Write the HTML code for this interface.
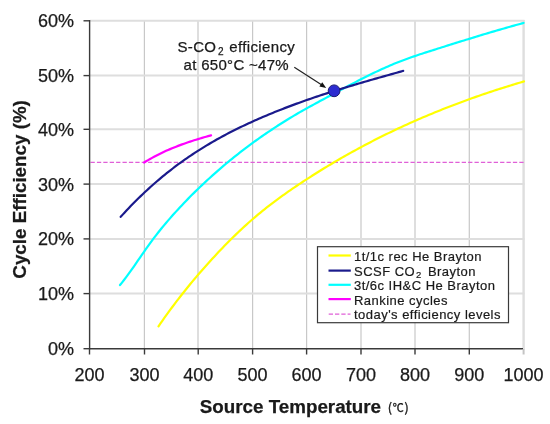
<!DOCTYPE html>
<html><head><meta charset="utf-8"><style>
html,body{margin:0;padding:0;background:#fff;width:550px;height:424px;overflow:hidden}
svg{display:block}
</style></head><body>
<svg width="550" height="424" viewBox="0 0 550 424">
<rect width="550" height="424" fill="#fff"/>
<line x1="144.4" y1="20" x2="144.4" y2="348" stroke="#c8c8c8" stroke-width="1.2"/>
<line x1="198.0" y1="20" x2="198.0" y2="348" stroke="#c8c8c8" stroke-width="1.2"/>
<line x1="252.6" y1="20" x2="252.6" y2="348" stroke="#c8c8c8" stroke-width="1.2"/>
<line x1="306.6" y1="20" x2="306.6" y2="348" stroke="#c8c8c8" stroke-width="1.2"/>
<line x1="361.0" y1="20" x2="361.0" y2="348" stroke="#c8c8c8" stroke-width="1.2"/>
<line x1="415.0" y1="20" x2="415.0" y2="348" stroke="#c8c8c8" stroke-width="1.2"/>
<line x1="469.3" y1="20" x2="469.3" y2="348" stroke="#c8c8c8" stroke-width="1.2"/>
<line x1="523.6" y1="20" x2="523.6" y2="349.5" stroke="#dedede" stroke-width="2.4"/>
<line x1="90" y1="20.8" x2="524.5" y2="20.8" stroke="#dedede" stroke-width="2"/>
<line x1="90" y1="75.6" x2="524.5" y2="75.6" stroke="#dedede" stroke-width="2"/>
<line x1="90" y1="129.3" x2="524.5" y2="129.3" stroke="#dedede" stroke-width="2"/>
<line x1="90" y1="184.1" x2="524.5" y2="184.1" stroke="#dedede" stroke-width="2"/>
<line x1="90" y1="238.9" x2="524.5" y2="238.9" stroke="#dedede" stroke-width="2"/>
<line x1="90" y1="293.6" x2="524.5" y2="293.6" stroke="#dedede" stroke-width="2"/>
<line x1="90.5" y1="162.4" x2="524.5" y2="162.4" stroke="#e060d8" stroke-width="1.3" stroke-dasharray="4.3,2.1"/>
<line x1="89.6" y1="20" x2="89.6" y2="349.3" stroke="#3a3a3a" stroke-width="1.4"/>
<line x1="89" y1="348.7" x2="523" y2="348.7" stroke="#3a3a3a" stroke-width="1.4"/>
<line x1="83.5" y1="20.8" x2="89.6" y2="20.8" stroke="#3a3a3a" stroke-width="1.4"/>
<line x1="83.5" y1="75.6" x2="89.6" y2="75.6" stroke="#3a3a3a" stroke-width="1.4"/>
<line x1="83.5" y1="129.3" x2="89.6" y2="129.3" stroke="#3a3a3a" stroke-width="1.4"/>
<line x1="83.5" y1="184.1" x2="89.6" y2="184.1" stroke="#3a3a3a" stroke-width="1.4"/>
<line x1="83.5" y1="238.9" x2="89.6" y2="238.9" stroke="#3a3a3a" stroke-width="1.4"/>
<line x1="83.5" y1="293.6" x2="89.6" y2="293.6" stroke="#3a3a3a" stroke-width="1.4"/>
<line x1="83.5" y1="348.7" x2="89.6" y2="348.7" stroke="#3a3a3a" stroke-width="1.4"/>
<line x1="89.5" y1="348.7" x2="89.5" y2="354.5" stroke="#3a3a3a" stroke-width="1.4"/>
<line x1="144.5" y1="348.7" x2="144.5" y2="354.5" stroke="#3a3a3a" stroke-width="1.4"/>
<line x1="198.2" y1="348.7" x2="198.2" y2="354.5" stroke="#3a3a3a" stroke-width="1.4"/>
<line x1="252.6" y1="348.7" x2="252.6" y2="354.5" stroke="#3a3a3a" stroke-width="1.4"/>
<line x1="306.6" y1="348.7" x2="306.6" y2="354.5" stroke="#3a3a3a" stroke-width="1.4"/>
<line x1="361.0" y1="348.7" x2="361.0" y2="354.5" stroke="#3a3a3a" stroke-width="1.4"/>
<line x1="415.0" y1="348.7" x2="415.0" y2="354.5" stroke="#3a3a3a" stroke-width="1.4"/>
<line x1="469.3" y1="348.7" x2="469.3" y2="354.5" stroke="#3a3a3a" stroke-width="1.4"/>
<line x1="523.6" y1="349" x2="523.6" y2="354.5" stroke="#c4c4c4" stroke-width="2"/>
<path d="M158.50,326.29 L160.50,323.39 L162.50,320.53 L164.50,317.71 L166.50,314.92 L168.50,312.16 L170.50,309.43 L172.50,306.74 L174.50,304.07 L176.50,301.44 L178.50,298.84 L180.50,296.26 L182.50,293.72 L184.50,291.20 L186.50,288.71 L188.50,286.25 L190.50,283.81 L192.50,281.40 L194.50,279.02 L196.50,276.65 L198.50,274.31 L200.50,272.00 L202.50,269.71 L204.50,267.43 L206.50,265.18 L208.50,262.95 L210.50,260.74 L212.50,258.55 L214.50,256.38 L216.50,254.23 L218.50,252.10 L220.50,249.99 L222.50,247.91 L224.50,245.84 L226.50,243.80 L228.50,241.77 L230.50,239.77 L232.50,237.80 L234.50,235.84 L236.50,233.91 L238.50,231.99 L240.50,230.11 L242.50,228.24 L244.50,226.40 L246.50,224.58 L248.50,222.79 L250.50,221.02 L252.50,219.28 L254.50,217.56 L256.50,215.86 L258.50,214.19 L260.50,212.54 L262.50,210.91 L264.50,209.30 L266.50,207.72 L268.50,206.15 L270.50,204.61 L272.50,203.08 L274.50,201.57 L276.50,200.08 L278.50,198.61 L280.50,197.15 L282.50,195.71 L284.50,194.28 L286.50,192.87 L288.50,191.47 L290.50,190.08 L292.50,188.71 L294.50,187.35 L296.50,186.00 L298.50,184.66 L300.50,183.33 L302.50,182.01 L304.50,180.70 L306.50,179.40 L308.50,178.10 L310.50,176.82 L312.50,175.54 L314.50,174.27 L316.50,173.01 L318.50,171.76 L320.50,170.52 L322.50,169.29 L324.50,168.06 L326.50,166.85 L328.50,165.64 L330.50,164.44 L332.50,163.25 L334.50,162.07 L336.50,160.89 L338.50,159.73 L340.50,158.57 L342.50,157.42 L344.50,156.28 L346.50,155.14 L348.50,154.02 L350.50,152.90 L352.50,151.79 L354.50,150.69 L356.50,149.59 L358.50,148.51 L360.50,147.43 L362.50,146.36 L364.50,145.29 L366.50,144.24 L368.50,143.19 L370.50,142.15 L372.50,141.12 L374.50,140.09 L376.50,139.07 L378.50,138.06 L380.50,137.06 L382.50,136.06 L384.50,135.08 L386.50,134.09 L388.50,133.12 L390.50,132.15 L392.50,131.19 L394.50,130.24 L396.50,129.29 L398.50,128.35 L400.50,127.42 L402.50,126.49 L404.50,125.57 L406.50,124.66 L408.50,123.76 L410.50,122.86 L412.50,121.97 L414.50,121.08 L416.50,120.20 L418.50,119.33 L420.50,118.46 L422.50,117.60 L424.50,116.75 L426.50,115.90 L428.50,115.06 L430.50,114.23 L432.50,113.40 L434.50,112.58 L436.50,111.76 L438.50,110.95 L440.50,110.15 L442.50,109.35 L444.50,108.56 L446.50,107.77 L448.50,106.99 L450.50,106.22 L452.50,105.45 L454.50,104.68 L456.50,103.93 L458.50,103.18 L460.50,102.43 L462.50,101.69 L464.50,100.95 L466.50,100.23 L468.50,99.50 L470.50,98.78 L472.50,98.07 L474.50,97.36 L476.50,96.66 L478.50,95.96 L480.50,95.27 L482.50,94.58 L484.50,93.90 L486.50,93.22 L488.50,92.55 L490.50,91.88 L492.50,91.22 L494.50,90.56 L496.50,89.91 L498.50,89.26 L500.50,88.62 L502.50,87.98 L504.50,87.35 L506.50,86.72 L508.50,86.09 L510.50,85.47 L512.50,84.86 L514.50,84.25 L516.50,83.64 L518.50,83.04 L520.50,82.44 L522.50,81.85 L524.00,81.40" fill="none" stroke="#ffff00" stroke-width="2.2" stroke-linecap="round" stroke-linejoin="round"/>
<path d="M120.00,285.05 L122.00,282.58 L124.00,280.02 L126.00,277.39 L128.00,274.68 L130.00,271.92 L132.00,269.10 L134.00,266.26 L136.00,263.38 L138.00,260.48 L140.00,257.58 L142.00,254.68 L144.00,251.79 L146.00,248.93 L148.00,246.10 L150.00,243.32 L152.00,240.59 L154.00,237.92 L156.00,235.30 L158.00,232.74 L160.00,230.23 L162.00,227.77 L164.00,225.36 L166.00,222.98 L168.00,220.65 L170.00,218.35 L172.00,216.08 L174.00,213.84 L176.00,211.63 L178.00,209.45 L180.00,207.29 L182.00,205.15 L184.00,203.04 L186.00,200.95 L188.00,198.89 L190.00,196.85 L192.00,194.84 L194.00,192.85 L196.00,190.88 L198.00,188.93 L200.00,187.00 L202.00,185.10 L204.00,183.21 L206.00,181.35 L208.00,179.51 L210.00,177.69 L212.00,175.88 L214.00,174.10 L216.00,172.33 L218.00,170.58 L220.00,168.85 L222.00,167.14 L224.00,165.45 L226.00,163.77 L228.00,162.11 L230.00,160.46 L232.00,158.84 L234.00,157.22 L236.00,155.63 L238.00,154.05 L240.00,152.48 L242.00,150.93 L244.00,149.40 L246.00,147.88 L248.00,146.37 L250.00,144.88 L252.00,143.41 L254.00,141.95 L256.00,140.51 L258.00,139.08 L260.00,137.66 L262.00,136.26 L264.00,134.87 L266.00,133.50 L268.00,132.14 L270.00,130.79 L272.00,129.46 L274.00,128.14 L276.00,126.83 L278.00,125.54 L280.00,124.26 L282.00,123.00 L284.00,121.74 L286.00,120.50 L288.00,119.27 L290.00,118.06 L292.00,116.85 L294.00,115.66 L296.00,114.48 L298.00,113.31 L300.00,112.16 L302.00,111.01 L304.00,109.88 L306.00,108.76 L308.00,107.64 L310.00,106.53 L312.00,105.44 L314.00,104.34 L316.00,103.25 L318.00,102.17 L320.00,101.09 L322.00,100.01 L324.00,98.94 L326.00,97.86 L328.00,96.79 L330.00,95.71 L332.00,94.63 L334.00,93.56 L336.00,92.48 L338.00,91.40 L340.00,90.33 L342.00,89.26 L344.00,88.19 L346.00,87.13 L348.00,86.06 L350.00,85.01 L352.00,83.95 L354.00,82.91 L356.00,81.86 L358.00,80.83 L360.00,79.80 L362.00,78.78 L364.00,77.76 L366.00,76.76 L368.00,75.76 L370.00,74.77 L372.00,73.80 L374.00,72.83 L376.00,71.87 L378.00,70.93 L380.00,70.00 L382.00,69.08 L384.00,68.17 L386.00,67.28 L388.00,66.40 L390.00,65.53 L392.00,64.68 L394.00,63.85 L396.00,63.03 L398.00,62.23 L400.00,61.44 L402.00,60.67 L404.00,59.92 L406.00,59.18 L408.00,58.45 L410.00,57.74 L412.00,57.04 L414.00,56.35 L416.00,55.67 L418.00,55.00 L420.00,54.33 L422.00,53.68 L424.00,53.02 L426.00,52.38 L428.00,51.74 L430.00,51.10 L432.00,50.47 L434.00,49.84 L436.00,49.20 L438.00,48.57 L440.00,47.94 L442.00,47.31 L444.00,46.68 L446.00,46.05 L448.00,45.42 L450.00,44.80 L452.00,44.17 L454.00,43.54 L456.00,42.92 L458.00,42.29 L460.00,41.67 L462.00,41.05 L464.00,40.43 L466.00,39.81 L468.00,39.19 L470.00,38.58 L472.00,37.96 L474.00,37.35 L476.00,36.74 L478.00,36.13 L480.00,35.52 L482.00,34.92 L484.00,34.32 L486.00,33.72 L488.00,33.12 L490.00,32.52 L492.00,31.93 L494.00,31.34 L496.00,30.75 L498.00,30.17 L500.00,29.59 L502.00,29.01 L504.00,28.44 L506.00,27.86 L508.00,27.30 L510.00,26.73 L512.00,26.17 L514.00,25.61 L516.00,25.06 L518.00,24.51 L520.00,23.96 L522.00,23.42 L523.60,22.99" fill="none" stroke="#00ffff" stroke-width="2.2" stroke-linecap="round" stroke-linejoin="round"/>
<path d="M120.70,216.84 L122.70,214.63 L124.70,212.46 L126.70,210.31 L128.70,208.20 L130.70,206.11 L132.70,204.05 L134.70,202.02 L136.70,200.02 L138.70,198.05 L140.70,196.10 L142.70,194.19 L144.70,192.30 L146.70,190.43 L148.70,188.59 L150.70,186.78 L152.70,185.00 L154.70,183.24 L156.70,181.50 L158.70,179.79 L160.70,178.11 L162.70,176.45 L164.70,174.81 L166.70,173.20 L168.70,171.61 L170.70,170.04 L172.70,168.50 L174.70,166.97 L176.70,165.47 L178.70,163.99 L180.70,162.54 L182.70,161.10 L184.70,159.68 L186.70,158.29 L188.70,156.91 L190.70,155.55 L192.70,154.22 L194.70,152.90 L196.70,151.60 L198.70,150.32 L200.70,149.06 L202.70,147.81 L204.70,146.58 L206.70,145.37 L208.70,144.18 L210.70,143.00 L212.70,141.84 L214.70,140.70 L216.70,139.56 L218.70,138.45 L220.70,137.35 L222.70,136.26 L224.70,135.19 L226.70,134.13 L228.70,133.09 L230.70,132.06 L232.70,131.04 L234.70,130.03 L236.70,129.04 L238.70,128.06 L240.70,127.09 L242.70,126.13 L244.70,125.18 L246.70,124.24 L248.70,123.32 L250.70,122.40 L252.70,121.49 L254.70,120.59 L256.70,119.70 L258.70,118.82 L260.70,117.95 L262.70,117.09 L264.70,116.23 L266.70,115.39 L268.70,114.55 L270.70,113.72 L272.70,112.90 L274.70,112.09 L276.70,111.29 L278.70,110.49 L280.70,109.70 L282.70,108.92 L284.70,108.14 L286.70,107.38 L288.70,106.62 L290.70,105.86 L292.70,105.12 L294.70,104.38 L296.70,103.64 L298.70,102.92 L300.70,102.20 L302.70,101.49 L304.70,100.78 L306.70,100.08 L308.70,99.38 L310.70,98.69 L312.70,98.01 L314.70,97.33 L316.70,96.66 L318.70,95.99 L320.70,95.32 L322.70,94.67 L324.70,94.01 L326.70,93.37 L328.70,92.72 L330.70,92.08 L332.70,91.45 L334.70,90.82 L336.70,90.19 L338.70,89.57 L340.70,88.95 L342.70,88.34 L344.70,87.73 L346.70,87.12 L348.70,86.52 L350.70,85.91 L352.70,85.32 L354.70,84.72 L356.70,84.13 L358.70,83.54 L360.70,82.96 L362.70,82.37 L364.70,81.79 L366.70,81.21 L368.70,80.63 L370.70,80.06 L372.70,79.49 L374.70,78.91 L376.70,78.34 L378.70,77.78 L380.70,77.21 L382.70,76.64 L384.70,76.08 L386.70,75.51 L388.70,74.95 L390.70,74.39 L392.70,73.83 L394.70,73.27 L396.70,72.71 L398.70,72.15 L400.70,71.59 L402.70,71.03 L403.20,70.89" fill="none" stroke="#1a1a8c" stroke-width="2.2" stroke-linecap="round" stroke-linejoin="round"/>
<path d="M144.10,162.48 L146.10,161.27 L148.10,160.10 L150.10,158.95 L152.10,157.84 L154.10,156.76 L156.10,155.71 L158.10,154.68 L160.10,153.69 L162.10,152.72 L164.10,151.79 L166.10,150.87 L168.10,149.98 L170.10,149.12 L172.10,148.28 L174.10,147.46 L176.10,146.66 L178.10,145.88 L180.10,145.13 L182.10,144.39 L184.10,143.67 L186.10,142.97 L188.10,142.28 L190.10,141.62 L192.10,140.96 L194.10,140.32 L196.10,139.69 L198.10,139.08 L200.10,138.48 L202.10,137.88 L204.10,137.30 L206.10,136.73 L208.10,136.16 L210.10,135.60 L211.10,135.33" fill="none" stroke="#ff00ff" stroke-width="2.2" stroke-linecap="round" stroke-linejoin="round"/>
<circle cx="334.1" cy="90.8" r="5.9" fill="#2c2cd0" stroke="#1a1a70" stroke-width="1"/>
<line x1="294.3" y1="67.3" x2="321.5" y2="84.8" stroke="#222" stroke-width="1.2"/>
<polygon points="326.2,87.9 319.4,86.4 322.2,82.2" fill="#111"/>
<g font-family="'Liberation Sans', Arial, sans-serif" fill="#1a1a1a" stroke="#1a1a1a" stroke-width="0.25">
<text x="74" y="27.4" font-size="18" text-anchor="end">60%</text>
<text x="74" y="82.1" font-size="18" text-anchor="end">50%</text>
<text x="74" y="135.6" font-size="18" text-anchor="end">40%</text>
<text x="74" y="190.7" font-size="18" text-anchor="end">30%</text>
<text x="74" y="245.4" font-size="18" text-anchor="end">20%</text>
<text x="74" y="300.1" font-size="18" text-anchor="end">10%</text>
<text x="74" y="355.1" font-size="18" text-anchor="end">0%</text>
<text x="89.5" y="381" font-size="18" text-anchor="middle">200</text>
<text x="144.5" y="381" font-size="18" text-anchor="middle">300</text>
<text x="198.2" y="381" font-size="18" text-anchor="middle">400</text>
<text x="252.6" y="381" font-size="18" text-anchor="middle">500</text>
<text x="306.6" y="381" font-size="18" text-anchor="middle">600</text>
<text x="361.0" y="381" font-size="18" text-anchor="middle">700</text>
<text x="415.0" y="381" font-size="18" text-anchor="middle">800</text>
<text x="469.3" y="381" font-size="18" text-anchor="middle">900</text>
<text x="523.5" y="381" font-size="18" text-anchor="middle">1000</text>
<text id="ann1" x="236.3" y="52.3" font-size="15" letter-spacing="0.35" text-anchor="middle">S-CO<tspan font-size="10" dx="1.5" dy="2.3">2</tspan><tspan dx="1" dy="-2.3"> efficiency</tspan></text>
<text id="ann2" x="236.3" y="69.8" font-size="15" letter-spacing="0.3" text-anchor="middle">at 650°C ~47%</text>
<text id="ytitle" x="0" y="0" font-size="18.8" font-weight="bold" transform="translate(26,189.4) rotate(-90)" text-anchor="middle">Cycle Efficiency (%)</text>
<text id="xtitle" x="199.8" y="412.5" font-size="18.8" font-weight="bold">Source Temperature <tspan font-weight="normal" font-size="12.5" stroke-width="0.35" dx="1.5" dy="-0.8" font-family="'Noto Sans CJK JP', sans-serif">(<tspan font-size="11" dx="0.8">℃</tspan><tspan dx="0.6">)</tspan></tspan></text>
</g>
<rect x="317.5" y="246.7" width="191" height="76" fill="#fff" stroke="#3a3a3a" stroke-width="1.2"/>
<line x1="328.5" y1="255.5" x2="350.8" y2="255.5" stroke="#ffff00" stroke-width="2.2"/>
<text id="leg0" x="354" y="261.3" font-family="'Liberation Sans', Arial, sans-serif" font-size="13" letter-spacing="0.47" fill="#1a1a1a" stroke="#1a1a1a" stroke-width="0.2">1t/1c rec He Brayton</text>
<line x1="328.5" y1="270.6" x2="350.8" y2="270.6" stroke="#1a1a8c" stroke-width="2.2"/>
<text id="leg1" x="354" y="275.7" font-family="'Liberation Sans', Arial, sans-serif" font-size="13" letter-spacing="0.47" fill="#1a1a1a" stroke="#1a1a1a" stroke-width="0.2">SCSF CO<tspan font-size="9.5" dx="1" dy="2">2</tspan><tspan dx="2" dy="-2"> Brayton</tspan></text>
<line x1="328.5" y1="284.8" x2="350.8" y2="284.8" stroke="#00ffff" stroke-width="2.2"/>
<text id="leg2" x="354" y="290.1" font-family="'Liberation Sans', Arial, sans-serif" font-size="13" letter-spacing="0.47" fill="#1a1a1a" stroke="#1a1a1a" stroke-width="0.2">3t/6c IH&amp;C He Brayton</text>
<line x1="328.5" y1="299.1" x2="350.8" y2="299.1" stroke="#ff00ff" stroke-width="2.2"/>
<text id="leg3" x="354" y="304.5" font-family="'Liberation Sans', Arial, sans-serif" font-size="13" letter-spacing="0.47" fill="#1a1a1a" stroke="#1a1a1a" stroke-width="0.2">Rankine cycles</text>
<line x1="328.7" y1="314.2" x2="350.5" y2="314.2" stroke="#e060d8" stroke-width="1.3" stroke-dasharray="4.3,2"/>
<text id="leg4" x="354" y="318.9" font-family="'Liberation Sans', Arial, sans-serif" font-size="13" letter-spacing="0.47" fill="#1a1a1a" stroke="#1a1a1a" stroke-width="0.2">today's efficiency levels</text>
</svg>
</body></html>
